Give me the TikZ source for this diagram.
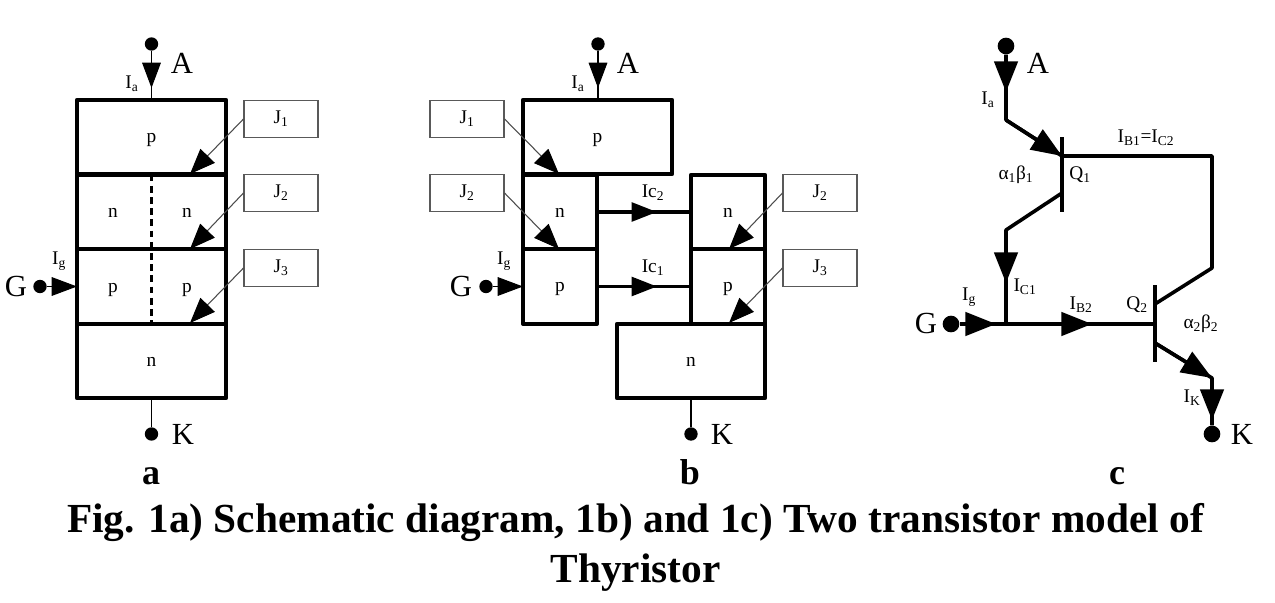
\documentclass[tikz,border=0pt]{standalone}
\usepackage{fontspec}
\setmainfont{Liberation Serif}
\usetikzlibrary{arrows.meta}
\tikzset{
  thinwire/.style={line width=0.8pt},
  thickwire/.style={line width=2.7pt, line join=round},
  cell/.style={draw, line width=2.9pt, line join=round, inner sep=0pt, outer sep=0pt, text height=7.5pt, text depth=0pt, font=\fontsize{14.5}{16}\selectfont},
  jbox/.style={draw, black!65, text=black, line width=0.8pt, minimum width=55.5pt, minimum height=28pt, inner sep=0pt, font=\fontsize{14.5}{16}\selectfont},
  term/.style={circle, fill, inner sep=0pt, minimum width=10pt},
  bigterm/.style={circle, fill, inner sep=0pt, minimum width=12.5pt},
  lab/.style={inner sep=0pt, font=\fontsize{14.5}{16}\selectfont},
  doping/.style={lab, text height=7.5pt, text depth=0pt},
  biglab/.style={inner sep=0pt, font=\fontsize{23}{25}\selectfont},
  tiplab/.style={inner sep=0pt, anchor=base, font=\fontsize{27}{29}\selectfont\bfseries},
  tip/.style={-{Triangle[length=19pt,width=14pt]}},
  bigtip/.style={-{Triangle[length=23pt,width=17.5pt]}},
  jwire/.style={thinwire, black!70, -{Triangle[length=19pt,width=15pt,color=black]}},
}
\begin{document}
\begin{tikzpicture}[x=0.75pt,y=-0.75pt]
\useasboundingbox (0,0) rectangle (1275,603);
% panel a
\node[cell, minimum width=111.75pt, minimum height=56pt] (ap1) at (151.5,137) {p};
\node[cell, minimum width=111.75pt, minimum height=56pt] (an1) at (151.5,212) {};
\node[cell, minimum width=111.75pt, minimum height=56pt] (ap2) at (151.5,286.5) {};
\node[cell, minimum width=111.75pt, minimum height=56pt] (an2) at (151.5,361) {n};
\node[doping] (anl) at (113,212) {n};
\node[doping] (anr) at (187,212) {n};
\node[doping] (apl) at (113,287) {p};
\node[doping] (apr) at (187,287) {p};
\draw[thickwire, dash pattern=on 5pt off 3.4pt] (an1.north) -- (ap2.south);
\node[term] (aA) at (151.5,44) {};
\node[term] (aK) at (151.5,434) {};
\node[term] (aG) at (40,286.5) {};
\node[biglab] (aAl) at (182,63) {A};
\node[biglab] (aKl) at (183,434) {K};
\node[biglab] (aGl) at (16,286) {G};
\node[lab] (aIa) at (132,84) {I\textsubscript{a}};
\node[lab] (aIg) at (59,261) {I\textsubscript{g}};
\coordinate (aAtip) at (151.5,88);
\draw[thinwire] (aA) -- (ap1.north);
\draw[thinwire, tip] (aA) -- (aAtip);
\draw[thinwire] (an2.south) -- (aK);
\draw[thinwire, tip] (aG) -- (ap2.west);
\node[jbox] (aJ1) at (281,119) {J\textsubscript{1}};
\node[jbox] (aJ2) at (281,193) {J\textsubscript{2}};
\node[jbox] (aJ3) at (281,268) {J\textsubscript{3}};
\coordinate (aj1) at (190,174);
\coordinate (aj2) at (190,249);
\coordinate (aj3) at (190,323);
\draw[jwire] (aJ1.west) -- (aj1);
\draw[jwire] (aJ2.west) -- (aj2);
\draw[jwire] (aJ3.west) -- (aj3);
\node[tiplab] (acap) at (151,484) {a};
% panel b
\node[cell, minimum width=111.75pt, minimum height=56pt] (bp1) at (597.5,137) {p};
\node[cell, minimum width=55.5pt, minimum height=56pt] (bn1) at (560,212) {n};
\node[cell, minimum width=55.5pt, minimum height=56pt] (bp2) at (560,286.5) {p};
\node[cell, minimum width=55.5pt, minimum height=56pt] (bn3) at (728,212) {n};
\node[cell, minimum width=55.5pt, minimum height=56pt] (bp3) at (728,286.5) {p};
\node[cell, minimum width=111pt, minimum height=56pt] (bn2) at (691,361) {n};
\node[term] (bA) at (598,44) {};
\node[term] (bK) at (691,434) {};
\node[term] (bG) at (486,286.5) {};
\node[biglab] (bAl) at (628,63) {A};
\node[biglab] (bKl) at (722,434) {K};
\node[biglab] (bGl) at (461,286) {G};
\node[lab] (bIa) at (578,84) {I\textsubscript{a}};
\node[lab] (bIg) at (504,261) {I\textsubscript{g}};
\coordinate (bAtip) at (598,88);
\coordinate (bAend) at (598,100);
\draw[thinwire] (bA) -- (bAend);
\draw[thinwire, tip] (bA) -- (bAtip);
\draw[thinwire] (bn2.south) -- (bK);
\draw[thinwire, tip] (bG) -- (bp2.west);
\coordinate (bc2tip) at (657,212);
\coordinate (bc1tip) at (657,286.5);
\draw[thickwire] (bn1.east) -- (bn3.west);
\draw[thickwire, tip] (bn1.east) -- (bc2tip);
\draw[thickwire] (bp2.east) -- (bp3.west);
\draw[thickwire, tip] (bp2.east) -- (bc1tip);
\node[lab] (bIc2) at (653,193) {Ic\textsubscript{2}};
\node[lab] (bIc1) at (653,268) {Ic\textsubscript{1}};
\node[jbox] (bJ1) at (467,119) {J\textsubscript{1}};
\node[jbox] (bJ2) at (467,193) {J\textsubscript{2}};
\node[jbox] (bJ4) at (820,193) {J\textsubscript{2}};
\node[jbox] (bJ3) at (820,268) {J\textsubscript{3}};
\coordinate (bj1) at (559,174);
\coordinate (bj2) at (559,249);
\coordinate (bj4) at (729,249);
\coordinate (bj3) at (729,323);
\draw[jwire] (bJ1.east) -- (bj1);
\draw[jwire] (bJ2.east) -- (bj2);
\draw[jwire] (bJ4.west) -- (bj4);
\draw[jwire] (bJ3.west) -- (bj3);
\node[tiplab] (bcap) at (690,484) {b};
% panel c
\node[bigterm] (cA) at (1006,46) {};
\node[bigterm] (cK) at (1212,434) {};
\node[bigterm] (cG) at (951,324) {};
\node[biglab] (cAl) at (1038,63) {A};
\node[biglab] (cKl) at (1242,434) {K};
\node[biglab] (cGl) at (926,323) {G};
\coordinate (cAtip) at (1006,92);
\coordinate (cAbend) at (1006,120);
\coordinate (cQ1e) at (1062,156);
\coordinate (cQ1t) at (1062,137);
\coordinate (cQ1b) at (1062,212);
\coordinate (cQ1c) at (1062,193);
\coordinate (cbr) at (1212,156);
\coordinate (cQ2k) at (1212,268);
\coordinate (cQ2c) at (1155,304);
\coordinate (cQ2t) at (1155,285);
\coordinate (cQ2b) at (1155,362);
\coordinate (cQ2e) at (1155,343);
\coordinate (cQ2m) at (1155,324);
\coordinate (cKbend) at (1212,378);
\coordinate (cKtip) at (1212,420);
\coordinate (cCbend) at (1006,230);
\coordinate (cCtip) at (1006,283);
\coordinate (cjn) at (1006,324);
\coordinate (cgtip) at (996,324);
\coordinate (cbtip) at (1092,324);
\draw[thickwire] (cA) -- (cAbend) -- (cQ1e);
\draw[thickwire, bigtip] (cA) -- (cAtip);
\draw[thickwire, bigtip] (cAbend) -- (cQ1e);
\draw[thickwire] (cQ1t) -- (cQ1b);
\draw[thickwire] (cQ1e) -- (cbr) -- (cQ2k) -- (cQ2c);
\draw[thickwire] (cQ2t) -- (cQ2b);
\draw[thickwire] (cQ1c) -- (cCbend) -- (cjn);
\draw[thickwire, bigtip] (cCbend) -- (cCtip);
\draw[thickwire] (cG) -- (cQ2m);
\draw[thickwire, bigtip] (cG) -- (cgtip);
\draw[thickwire, bigtip] (cjn) -- (cbtip);
\draw[thickwire] (cQ2e) -- (cKbend) -- (cK);
\draw[thickwire, bigtip] (cQ2e) -- (cKbend);
\draw[thickwire, bigtip] (cKbend) -- (cKtip);
\node[lab] (cIa) at (988,100) {I\textsubscript{a}};
\node[lab] (cIbc) at (1146,138) {I\textsubscript{B1}=I\textsubscript{C2}};
\node[lab] (cab1) at (1016,175) {α\textsubscript{1}β\textsubscript{1}};
\node[lab] (cQ1) at (1080,175) {Q\textsubscript{1}};
\node[lab] (cIc1) at (1025,287) {I\textsubscript{C1}};
\node[lab] (cIg) at (969,297) {I\textsubscript{g}};
\node[lab] (cIb2) at (1081,305) {I\textsubscript{B2}};
\node[lab] (cQ2) at (1137,305) {Q\textsubscript{2}};
\node[lab] (cab2) at (1201,324) {α\textsubscript{2}β\textsubscript{2}};
\node[lab] (cIk) at (1192,398) {I\textsubscript{K}};
\node[tiplab] (ccap) at (1117,484) {c};
% caption
\node[inner sep=0pt, align=center, font=\fontsize{31}{37.5}\selectfont\bfseries] (title) at (635.5,547) {Fig. 1a) Schematic diagram, 1b) and 1c) Two transistor model of\\Thyristor};
\end{tikzpicture}
\end{document}
